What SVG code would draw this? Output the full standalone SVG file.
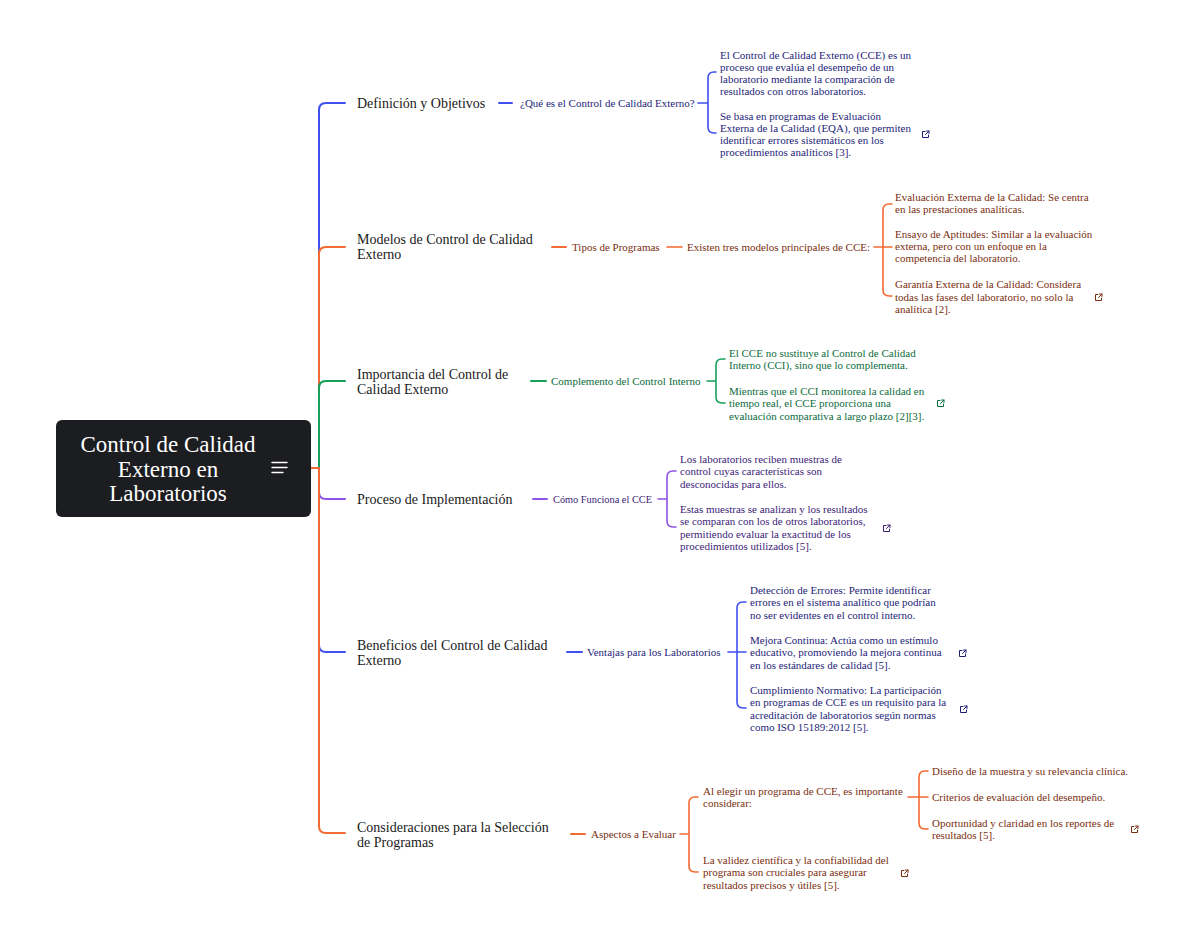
<svg xmlns="http://www.w3.org/2000/svg" xmlns:xlink="http://www.w3.org/1999/xlink" width="1200" height="939" viewBox="0 0 1200 939">
<style>
text{font-family:"Liberation Serif",serif;dominant-baseline:central}
.root{font-size:23px;fill:#ffffff;text-anchor:middle}
.b1{font-size:14px;fill:#1a1a1a}
.t{font-size:11px}
.tb{fill:#1e1e78}
.to{fill:#7a2e10}
.tg{fill:#0b6b3c}
.tp{fill:#3c1c78}
.c{fill:none;stroke-linecap:round;stroke-linejoin:round}
.m{stroke-width:2}
.s{stroke-width:1.6}
.lb{stroke:#3f50ef}
.lo{stroke:#f36a32}
.lg{stroke:#16a05a}
.lp{stroke:#8d52e6}
</style>
<defs>
<symbol id="lnk" viewBox="0 0 9 9">
<path d="M4 1.5H1.5V7.5H7.5V5M5.5 1H8V3.5M8 1L4.5 4.5" fill="none" stroke="currentColor" stroke-width="1" stroke-linecap="round" stroke-linejoin="round"/>
</symbol>
</defs>
<rect width="1200" height="939" fill="#ffffff"/>
<g id="connectors">
<path class="c m lb" d="M319 468V110Q319 103 326 103H345"/>
<path class="c m lo" d="M319 468V254Q319 247 326 247H345"/>
<path class="c m lg" d="M319 468V388Q319 381 326 381H345"/>
<path class="c m lp" d="M319 468V492Q319 499 326 499H345"/>
<path class="c m lb" d="M319 468V645Q319 652 326 652H345"/>
<path class="c m lo" d="M311 468H319V826Q319 833 326 833H345"/>
<path class="c m lb" d="M499 103H512"/>
<path class="c s lb" d="M698 103H708M716 72H714Q708 72 708 78V127Q708 133 714 133H716"/>
<path class="c m lo" d="M552 247H566"/>
<path class="c s lo" d="M667 247H682"/>
<path class="c s lo" d="M874 247H892M892 204H889Q883 204 883 210V290Q883 296 889 296H892"/>
<path class="c m lg" d="M531 381H546"/>
<path class="c s lg" d="M707 381H716M725 359H722Q716 359 716 365V397Q716 403 722 403H725"/>
<path class="c m lp" d="M533 499H547"/>
<path class="c s lp" d="M658 499H667M676 471H673Q667 471 667 477V521Q667 527 673 527H676"/>
<path class="c m lb" d="M567 652H582"/>
<path class="c s lb" d="M728 652H746M746 602H743Q737 602 737 608V702Q737 708 743 708H746"/>
<path class="c m lo" d="M571 834H585"/>
<path class="c s lo" d="M680 834H689M698 797H695Q689 797 689 803V866Q689 872 695 872H698"/>
<path class="c s lo" d="M908 797H928M928 771H925Q919 771 919 777V823Q919 829 925 829H928"/>
</g>
<g id="root">
<rect x="56" y="420" width="255" height="97" rx="6" fill="#1c1d21"/>
<text class="root" x="168" y="444">Control de Calidad</text>
<text class="root" x="168" y="469">Externo en</text>
<text class="root" x="168" y="493">Laboratorios</text>
<path d="M272 462.5H287M272 467.5H287M272 472.5H283" stroke="#ffffff" stroke-width="1.4" stroke-linecap="round"/>
</g>
<g id="n1"><text class="b1" x="357" y="103">Definición y Objetivos</text></g>
<g id="n1a"><text class="t tb" x="520" y="103">¿Qué es el Control de Calidad Externo?</text></g>
<g id="n1a1" class="t tb">
<text x="720" y="55">El Control de Calidad Externo (CCE) es un</text>
<text x="720" y="67">proceso que evalúa el desempeño de un</text>
<text x="720" y="79">laboratorio mediante la comparación de</text>
<text x="720" y="91">resultados con otros laboratorios.</text>
</g>
<g id="n1a2" class="t tb">
<text x="720" y="116">Se basa en programas de Evaluación</text>
<text x="720" y="128">Externa de la Calidad (EQA), que permiten</text>
<text x="720" y="140">identificar errores sistemáticos en los</text>
<text x="720" y="152">procedimientos analíticos [3].</text>
<use href="#lnk" x="921" y="130" width="9" height="9" color="#1e1e78"/>
</g>
<g id="n2">
<text class="b1" x="357" y="239">Modelos de Control de Calidad</text>
<text class="b1" x="357" y="254">Externo</text>
</g>
<g id="n2a"><text class="t to" x="572" y="247">Tipos de Programas</text></g>
<g id="n2b"><text class="t to" x="687" y="247">Existen tres modelos principales de CCE:</text></g>
<g id="n2b1" class="t to">
<text x="895" y="197">Evaluación Externa de la Calidad: Se centra</text>
<text x="895" y="209">en las prestaciones analíticas.</text>
</g>
<g id="n2b2" class="t to">
<text x="895" y="234">Ensayo de Aptitudes: Similar a la evaluación</text>
<text x="895" y="246">externa, pero con un enfoque en la</text>
<text x="895" y="258">competencia del laboratorio.</text>
</g>
<g id="n2b3" class="t to">
<text x="895" y="284">Garantía Externa de la Calidad: Considera</text>
<text x="895" y="297">todas las fases del laboratorio, no solo la</text>
<text x="895" y="309">analítica [2].</text>
<use href="#lnk" x="1094" y="293" width="9" height="9" color="#7a2e10"/>
</g>
<g id="n3">
<text class="b1" x="357" y="374">Importancia del Control de</text>
<text class="b1" x="357" y="389">Calidad Externo</text>
</g>
<g id="n3a"><text class="t tg" x="551" y="381">Complemento del Control Interno</text></g>
<g id="n3a1" class="t tg">
<text x="729" y="353">El CCE no sustituye al Control de Calidad</text>
<text x="729" y="365">Interno (CCI), sino que lo complementa.</text>
</g>
<g id="n3a2" class="t tg">
<text x="729" y="391">Mientras que el CCI monitorea la calidad en</text>
<text x="729" y="403">tiempo real, el CCE proporciona una</text>
<text x="729" y="416">evaluación comparativa a largo plazo [2][3].</text>
<use href="#lnk" x="936" y="399" width="9" height="9" color="#0b6b3c"/>
</g>
<g id="n4"><text class="b1" x="357" y="499">Proceso de Implementación</text></g>
<g id="n4a"><text class="t tp" x="553" y="499" textLength="99" lengthAdjust="spacingAndGlyphs">Cómo Funciona el CCE</text></g>
<g id="n4a1" class="t tp">
<text x="680" y="459">Los laboratorios reciben muestras de</text>
<text x="680" y="471">control cuyas características son</text>
<text x="680" y="484">desconocidas para ellos.</text>
</g>
<g id="n4a2" class="t tp">
<text x="680" y="509">Estas muestras se analizan y los resultados</text>
<text x="680" y="521">se comparan con los de otros laboratorios,</text>
<text x="680" y="534">permitiendo evaluar la exactitud de los</text>
<text x="680" y="546">procedimientos utilizados [5].</text>
<use href="#lnk" x="882" y="524" width="9" height="9" color="#3c1c78"/>
</g>
<g id="n5">
<text class="b1" x="357" y="645">Beneficios del Control de Calidad</text>
<text class="b1" x="357" y="660">Externo</text>
</g>
<g id="n5a"><text class="t tb" x="587" y="652">Ventajas para los Laboratorios</text></g>
<g id="n5a1" class="t tb">
<text x="750" y="590">Detección de Errores: Permite identificar</text>
<text x="750" y="602">errores en el sistema analítico que podrían</text>
<text x="750" y="615">no ser evidentes en el control interno.</text>
</g>
<g id="n5a2" class="t tb">
<text x="750" y="640">Mejora Continua: Actúa como un estímulo</text>
<text x="750" y="652">educativo, promoviendo la mejora continua</text>
<text x="750" y="665">en los estándares de calidad [5].</text>
<use href="#lnk" x="958" y="649" width="9" height="9" color="#1e1e78"/>
</g>
<g id="n5a3" class="t tb">
<text x="750" y="690">Cumplimiento Normativo: La participación</text>
<text x="750" y="702">en programas de CCE es un requisito para la</text>
<text x="750" y="715">acreditación de laboratorios según normas</text>
<text x="750" y="727">como ISO 15189:2012 [5].</text>
<use href="#lnk" x="959" y="705" width="9" height="9" color="#1e1e78"/>
</g>
<g id="n6">
<text class="b1" x="357" y="827">Consideraciones para la Selección</text>
<text class="b1" x="357" y="842">de Programas</text>
</g>
<g id="n6a"><text class="t to" x="591" y="834">Aspectos a Evaluar</text></g>
<g id="n6a1" class="t to">
<text x="703" y="791">Al elegir un programa de CCE, es importante</text>
<text x="703" y="803">considerar:</text>
</g>
<g id="n6a1a"><text class="t to" x="932" y="771">Diseño de la muestra y su relevancia clínica.</text></g>
<g id="n6a1b"><text class="t to" x="932" y="797">Criterios de evaluación del desempeño.</text></g>
<g id="n6a1c" class="t to">
<text x="932" y="823">Oportunidad y claridad en los reportes de</text>
<text x="932" y="835">resultados [5].</text>
<use href="#lnk" x="1130" y="825" width="9" height="9" color="#7a2e10"/>
</g>
<g id="n6a2" class="t to">
<text x="703" y="860">La validez científica y la confiabilidad del</text>
<text x="703" y="872">programa son cruciales para asegurar</text>
<text x="703" y="885">resultados precisos y útiles [5].</text>
<use href="#lnk" x="900" y="869" width="9" height="9" color="#7a2e10"/>
</g>
</svg>
